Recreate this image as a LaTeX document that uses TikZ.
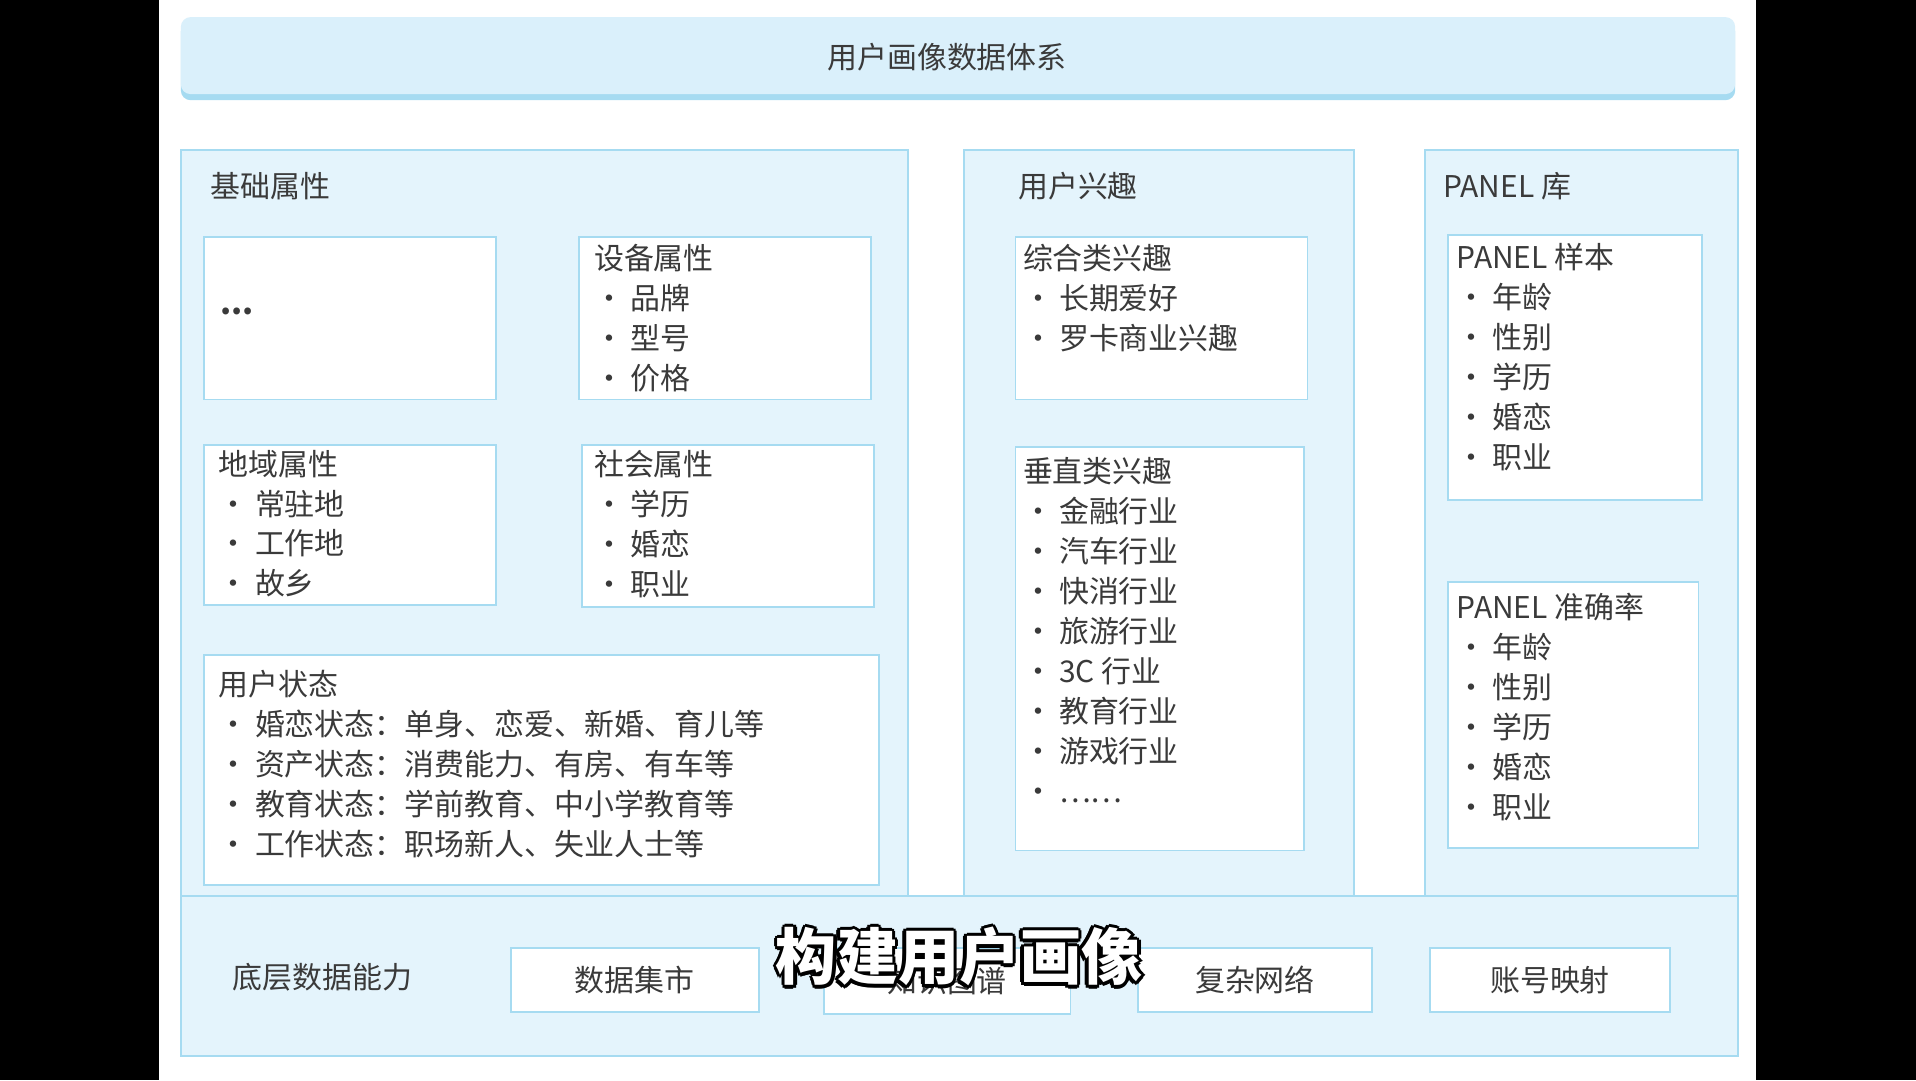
\documentclass[tikz,border=0pt]{standalone}
\usepackage{fontspec}
\setmainfont{Noto Sans CJK SC}
\definecolor{pfill}{HTML}{E4F4FC}
\definecolor{pline}{HTML}{A6DBF1}
\definecolor{tbar}{HTML}{DAF0FB}
\definecolor{txt}{HTML}{3A3A3A}
\newcommand{\bt}{•\hspace{5pt}}
\tikzset{
  panelst/.style={draw=pline,line width=1.5pt,fill=pfill},
  boxst/.style={draw=pline,line width=1.5pt,fill=white},
  lbl/.style={anchor=north west,align=left,inner sep=0pt,text=txt,font=\fontsize{24.5}{32.7}\selectfont},
  ptitle/.style={anchor=west,inner sep=0pt,text=txt,font=\fontsize{24.5}{28}\selectfont},
  captext/.style={font=\fontsize{50}{56}\selectfont\bfseries,inner sep=0pt}
}
\begin{document}
\begin{tikzpicture}[x=1pt,y=-1pt]
\useasboundingbox (0,0) rectangle (1568,884);
\fill[black] (0,0) rectangle (1568,884);
\fill[white] (130,0) rectangle (1437,884);
% title bar
\fill[pline,rounded corners=8pt] (148,18) rectangle (1420,82);
\fill[tbar,rounded corners=8pt] (148,14) rectangle (1420,77);
\node[text=txt,font=\fontsize{24.5}{28}\selectfont] (title) at (775,47) {用户画像数据体系};
% panels
\draw[panelst] (148,123) rectangle (743,740);
\draw[panelst] (789,123) rectangle (1108,740);
\draw[panelst] (1166,123) rectangle (1422,740);
\draw[panelst] (148,733) rectangle (1422,864);
\node[ptitle] (t1) at (172,152) {基础属性};
\node[ptitle] (t2) at (833,152) {用户兴趣};
\node[ptitle] (t3) at (1181,152) {PANEL 库};
% basic boxes
\draw[boxst] (167,194) rectangle (406,327);
\node[lbl,font=\fontsize{26}{30}\selectfont\bfseries] (dots) at (180,252) {...};
\draw[boxst] (474,194) rectangle (713,327);
\node[lbl] (sb) at (486,200) {设备属性\\\bt 品牌\\\bt 型号\\\bt 价格};
\draw[boxst] (167,364) rectangle (406,495);
\node[lbl] (dy) at (179,368) {地域属性\\\bt 常驻地\\\bt 工作地\\\bt 故乡};
\draw[boxst] (476,364) rectangle (715,497);
\node[lbl] (sh) at (486,368) {社会属性\\\bt 学历\\\bt 婚恋\\\bt 职业};
\draw[boxst] (167,536) rectangle (719,724);
\node[lbl] (zt) at (179,548) {用户状态\\\bt 婚恋状态：单身、恋爱、新婚、育儿等\\\bt 资产状态：消费能力、有房、有车等\\\bt 教育状态：学前教育、中小学教育等\\\bt 工作状态：职场新人、失业人士等};
% interest
\draw[boxst] (831,194) rectangle (1070,327);
\node[lbl] (zh) at (837,200) {综合类兴趣\\\bt 长期爱好\\\bt 罗卡商业兴趣};
\draw[boxst] (831,366) rectangle (1067,696);
\node[lbl] (cz) at (837,374) {垂直类兴趣\\\bt 金融行业\\\bt 汽车行业\\\bt 快消行业\\\bt 旅游行业\\\bt 3C 行业\\\bt 教育行业\\\bt 游戏行业\\\bt ……};
% panel lib
\draw[boxst] (1185,192) rectangle (1393,409);
\node[lbl] (pa) at (1192,199) {PANEL 样本\\\bt 年龄\\\bt 性别\\\bt 学历\\\bt 婚恋\\\bt 职业};
\draw[boxst] (1185,476) rectangle (1390,694);
\node[lbl] (pb) at (1192,485) {PANEL 准确率\\\bt 年龄\\\bt 性别\\\bt 学历\\\bt 婚恋\\\bt 职业};
% bottom
\node[ptitle] (btl) at (190,800) {底层数据能力};
\draw[boxst] (418,776) rectangle (621,828);
\node[text=txt,font=\fontsize{24.5}{28}\selectfont] (b1) at (519.5,802) {数据集市};
\draw[boxst] (674,776) rectangle (876,830);
\node[text=txt,font=\fontsize{24.5}{28}\selectfont] (b2) at (775,803) {知识图谱};
\draw[boxst] (931,776) rectangle (1123,828);
\node[text=txt,font=\fontsize{24.5}{28}\selectfont] (b3) at (1027,802) {复杂网络};
\draw[boxst] (1170,776) rectangle (1367,828);
\node[text=txt,font=\fontsize{24.5}{28}\selectfont] (b4) at (1268.5,802) {账号映射};
% caption with outline
\foreach \dx/\dy in {-3/0,3/0,0/-3,0/3,-2/-2,2/2,-2/2,2/-2} {
  \node[captext,text=black] at (785+\dx,783+\dy) {构建用户画像};
}
\node[captext,text=white] (caption) at (785,783) {构建用户画像};
\end{tikzpicture}
\end{document}
